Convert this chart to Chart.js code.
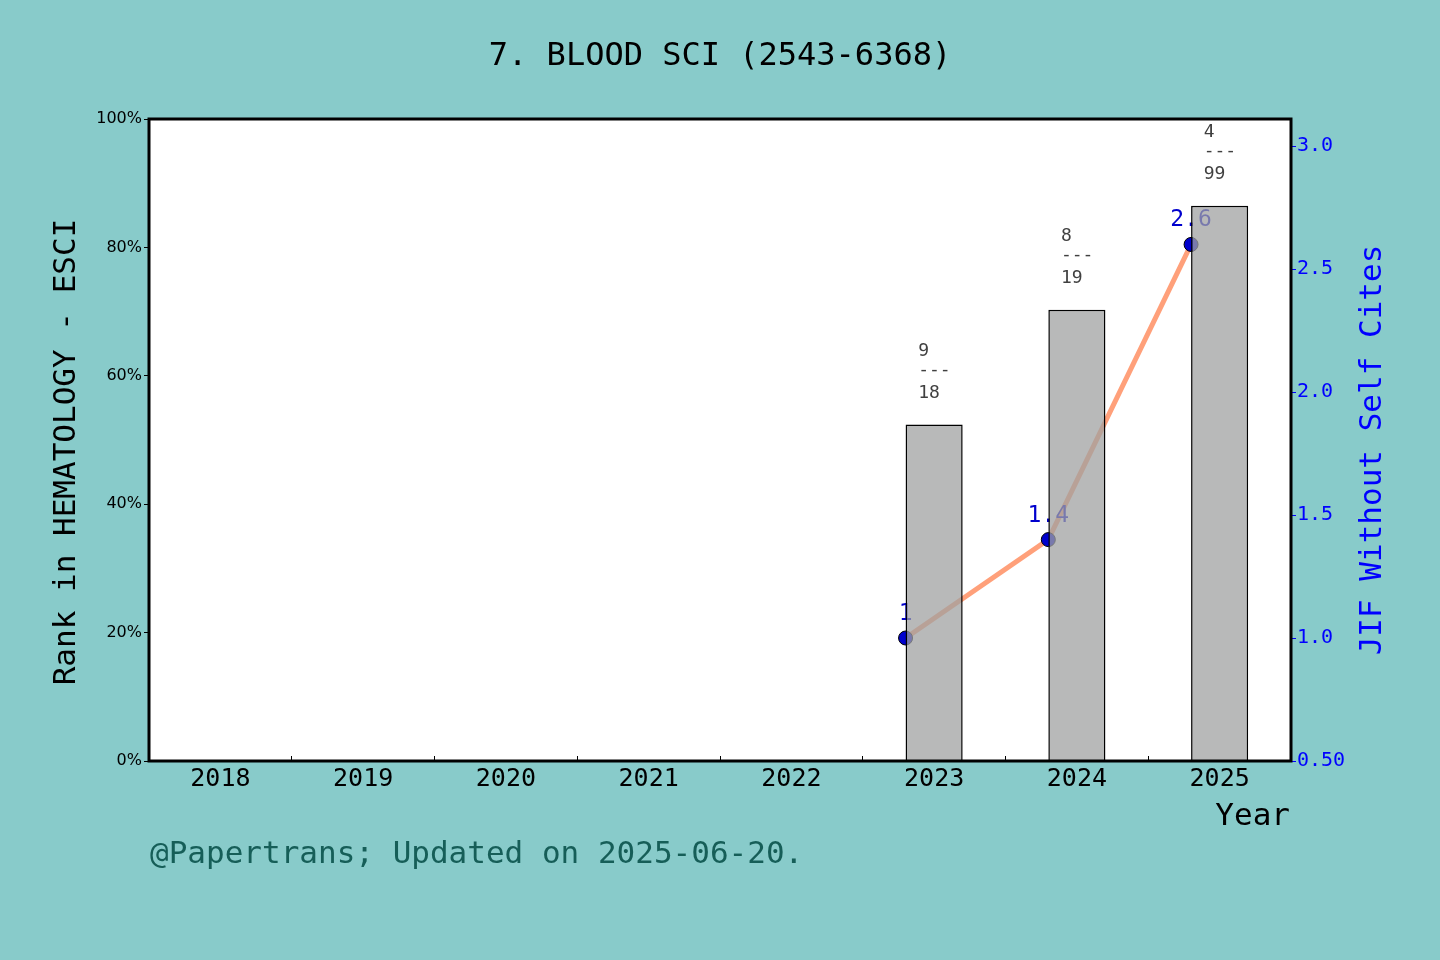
<!DOCTYPE html>
<html>
<head>
<meta charset="utf-8">
<title>BLOOD SCI</title>
<script src="https://cdn.jsdelivr.net/npm/chart.js@4.4.1/dist/chart.umd.min.js"></script>
<style>
  html, body { margin: 0; padding: 0; background: #88cbca; }
  #wrap { width: 1440px; height: 960px; }
</style>
</head>
<body>
<div id="wrap"><canvas id="chart" width="1440" height="960"></canvas></div>
<script>
// data
const years = ['2018', '2019', '2020', '2021', '2022', '2023', '2024', '2025'];
const rankPercent = [null, null, null, null, null, 52.4, 70.3, 86.5];
const rankNum = [null, null, null, null, null, '9', '8', '4'];
const rankTotal = [null, null, null, null, null, '18', '19', '99'];
const jifValues = [null, null, null, null, null, 1.0, 1.4, 2.6];
const jifLabels = [null, null, null, null, null, '1', '1.4', '2.6'];

const leftTicks = [0, 20, 40, 60, 80, 100];
const rightTicks = [0.5, 1.0, 1.5, 2.0, 2.5, 3.0];
const rightTickLabels = ['0.50', '1.0', '1.5', '2.0', '2.5', '3.0'];

const barFrac = 0.4;
const mono = '"DejaVu Sans Mono", "Liberation Mono", monospace';

// the line points sit on the left edge of each bar
const linePoints = [];
jifValues.forEach((v, i) => {
    if (v !== null) linePoints.push({ x: i - barFrac / 2, y: v, label: jifLabels[i] });
});

const textPlugin = {
    id: 'texts',
    afterDatasetDraw(chart, args) {
        // labels of the line go under the bars
        if (args.meta.type !== 'line') return;
        const ctx = chart.ctx;
        ctx.save();
        ctx.font = '23px ' + mono;
        ctx.fillStyle = '#0000cd';
        ctx.textAlign = 'center';
        ctx.textBaseline = 'middle';
        args.meta.data.forEach((pt, i) => {
            ctx.fillText(linePoints[i].label, pt.x, pt.y - 24);
        });
        ctx.restore();
    },
    afterDatasetsDraw(chart) {
        const ctx = chart.ctx;
        const a = chart.chartArea;
        ctx.save();

        // plot frame
        ctx.strokeStyle = '#000';
        ctx.lineWidth = 3;
        ctx.strokeRect(a.left, a.top, a.right - a.left, a.bottom - a.top);

        // rank fractions above the bars
        const bars = chart.getDatasetMeta(0).data;
        ctx.font = '18px ' + mono;
        ctx.fillStyle = '#404040';
        ctx.textAlign = 'left';
        ctx.textBaseline = 'middle';
        bars.forEach((bar, i) => {
            if (rankPercent[i] === null) return;
            const x = bar.x - 16;
            ctx.fillText(rankNum[i], x, bar.y - 73);
            ctx.fillText('---', x, bar.y - 54);
            ctx.fillText(rankTotal[i], x, bar.y - 31);
        });
        ctx.restore();
    },
    afterDraw(chart) {
        const ctx = chart.ctx;
        ctx.save();
        ctx.textBaseline = 'middle';

        ctx.font = '32px ' + mono;
        ctx.fillStyle = '#000';
        ctx.textAlign = 'center';
        ctx.fillText('7. BLOOD SCI (2543-6368)', 720, 57);

        ctx.font = '31px ' + mono;
        ctx.textAlign = 'right';
        ctx.fillText('Year', 1290, 817);

        ctx.textAlign = 'left';
        ctx.fillStyle = '#165e58';
        ctx.fillText('@Papertrans; Updated on 2025-06-20.', 150, 855);

        ctx.textAlign = 'center';
        ctx.save();
        ctx.translate(67, 452);
        ctx.rotate(-Math.PI / 2);
        ctx.fillStyle = '#000';
        ctx.fillText('Rank in HEMATOLOGY - ESCI', 0, 0);
        ctx.restore();

        ctx.save();
        ctx.translate(1373, 450);
        ctx.rotate(-Math.PI / 2);
        ctx.fillStyle = '#0000ff';
        ctx.fillText('JIF Without Self Cites', 0, 0);
        ctx.restore();

        ctx.restore();
    }
};

const bgPlugin = {
    id: 'bg',
    beforeDraw(chart) {
        const ctx = chart.ctx;
        const a = chart.chartArea;
        ctx.save();
        ctx.fillStyle = '#88cbca';
        ctx.fillRect(0, 0, chart.width, chart.height);
        ctx.fillStyle = '#ffffff';
        ctx.fillRect(a.left, a.top, a.right - a.left, a.bottom - a.top);
        ctx.restore();
    }
};

new Chart(document.getElementById('chart'), {
    data: {
        labels: years,
        datasets: [
            {
                type: 'bar',
                label: 'Rank',
                data: rankPercent,
                xAxisID: 'x',
                yAxisID: 'y',
                backgroundColor: 'rgba(160, 161, 162, 0.75)',
                borderColor: '#000',
                borderWidth: 1.5,
                grouped: false,
                barPercentage: barFrac,
                categoryPercentage: 1,
                order: 0
            },
            {
                type: 'line',
                label: 'JIF',
                data: linePoints,
                xAxisID: 'xl',
                yAxisID: 'y2',
                borderColor: '#ffa07a',
                borderWidth: 5,
                pointRadius: 7,
                pointBackgroundColor: '#0000cd',
                pointBorderColor: '#000',
                pointBorderWidth: 1,
                tension: 0,
                order: 1
            }
        ]
    },
    options: {
        responsive: false,
        animation: false,
        devicePixelRatio: 1,
        layout: { padding: { top: 119, left: 0, right: 0, bottom: 0 } },
        plugins: {
            legend: { display: false },
            tooltip: { enabled: false },
            title: { display: false }
        },
        scales: {
            x: {
                type: 'category',
                offset: true,
                border: { display: false },
                grid: {
                    offset: true,
                    drawOnChartArea: false,
                    drawTicks: true,
                    tickLength: -5,
                    color: '#000',
                    lineWidth: 1
                },
                ticks: {
                    color: '#000',
                    font: { family: mono, size: 25 },
                    padding: 8,
                    maxRotation: 0,
                    autoSkip: false
                },
                afterFit(scale) { scale.height = 199; }
            },
            xl: {
                type: 'linear',
                display: false,
                min: -0.5,
                max: years.length - 0.5
            },
            y: {
                type: 'linear',
                position: 'left',
                min: 0,
                max: 100,
                border: { display: false },
                grid: {
                    drawOnChartArea: false,
                    drawTicks: true,
                    tickLength: 5,
                    color: '#000'
                },
                afterBuildTicks(scale) { scale.ticks = leftTicks.map(v => ({ value: v })); },
                ticks: {
                    color: '#000',
                    font: { family: '"DejaVu Sans", sans-serif', size: 16 },
                    padding: 2,
                    callback: v => v + '%'
                },
                afterFit(scale) { scale.width = 149; }
            },
            y2: {
                type: 'linear',
                position: 'right',
                min: 0.5,
                max: 3.11,
                border: { display: false },
                grid: {
                    drawOnChartArea: false,
                    drawTicks: true,
                    tickLength: 5,
                    color: '#0000ff'
                },
                afterBuildTicks(scale) { scale.ticks = rightTicks.map(v => ({ value: v })); },
                ticks: {
                    color: '#0000ff',
                    font: { family: mono, size: 20 },
                    padding: 1,
                    callback: (v, i) => rightTickLabels[i]
                },
                afterFit(scale) { scale.width = 149; }
            }
        }
    },
    plugins: [bgPlugin, textPlugin]
});
</script>
</body>
</html>
